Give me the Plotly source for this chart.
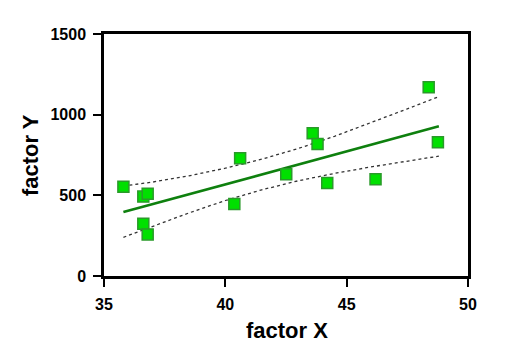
import plotly.graph_objects as go

# Data points
x_vals = [35.80, 36.62, 36.80, 36.62, 36.80, 40.61, 40.37, 42.51, 43.60, 43.80, 44.20, 46.19, 48.38, 48.76]
y_vals = [553, 492, 510, 324, 258, 730, 446, 630, 885, 818, 577, 599, 1170, 829]

# Regression line
fit_x = [35.8, 48.8]
fit_y = [396, 928]

# Confidence band
ci_x = [35.8, 37.0, 38.5, 40.0, 41.5, 43.0, 44.5, 46.0, 47.5, 48.8]
ci_upper = [558, 582, 621, 668, 724, 790, 866, 950, 1036, 1112]
ci_lower = [240, 308, 391, 468, 534, 590, 636, 676, 712, 743]

x_ticks = [35, 40, 45, 50]
y_ticks = [0, 500, 1000, 1500]

FONT = "Liberation Sans, Arial, Helvetica, sans-serif"

# page has an 8px body margin; figure sized to fit inside the window
W, H = 517, 352
L, R, T, B = 96, 57, 26, 84
pw, ph = W - L - R, H - T - B

fig = go.Figure()
fig.add_trace(go.Scatter(x=ci_x, y=ci_upper, mode="lines",
                         line=dict(color="#333333", width=1.3, dash="dot"), hoverinfo="skip"))
fig.add_trace(go.Scatter(x=ci_x, y=ci_lower, mode="lines",
                         line=dict(color="#333333", width=1.3, dash="dot"), hoverinfo="skip"))
fig.add_trace(go.Scatter(x=fit_x, y=fit_y, mode="lines",
                         line=dict(color="#0E800E", width=2.6)))
fig.add_trace(go.Scatter(x=x_vals, y=y_vals, mode="markers",
                         marker=dict(symbol="square", size=11, color="#00E000",
                                     line=dict(color="#2A9A2A", width=1.5))))

axis_common = dict(
    showgrid=False, zeroline=False, showline=True, linecolor="black", linewidth=2.5,
    mirror=True, ticks="outside", ticklen=8, tickwidth=2, tickcolor="black",
    tickfont=dict(family=FONT, size=16, color="black", weight="bold"),
    ticklabelstandoff=4,
    automargin=False,
)

def px_to_paper(xp, yp):
    # xp, yp are page pixel coords of the reference
    fx, fy = xp - 8, yp - 8
    return (fx - L) / pw, (H - B - fy) / ph

ax_x, ax_y = px_to_paper(287, 330)
ay_x, ay_y = px_to_paper(30, 155)

fig.update_layout(
    width=W, height=H,
    margin=dict(l=L, r=R, t=T, b=B),
    paper_bgcolor="white", plot_bgcolor="white",
    showlegend=False,
    font=dict(family=FONT, color="black"),
    xaxis=dict(range=[35, 50], tickvals=x_ticks, **axis_common),
    yaxis=dict(range=[0, 1500], tickvals=y_ticks, **axis_common),
    annotations=[
        dict(text="<b>factor X</b>", x=ax_x, y=ax_y, xref="paper", yref="paper",
             xanchor="center", yanchor="middle", showarrow=False,
             font=dict(family=FONT, size=22, color="black")),
        dict(text="<b>factor Y</b>", x=ay_x, y=ay_y, xref="paper", yref="paper",
             xanchor="center", yanchor="middle", showarrow=False, textangle=-90,
             font=dict(family=FONT, size=22, color="black")),
    ],
)

fig.write_html("out.html")
